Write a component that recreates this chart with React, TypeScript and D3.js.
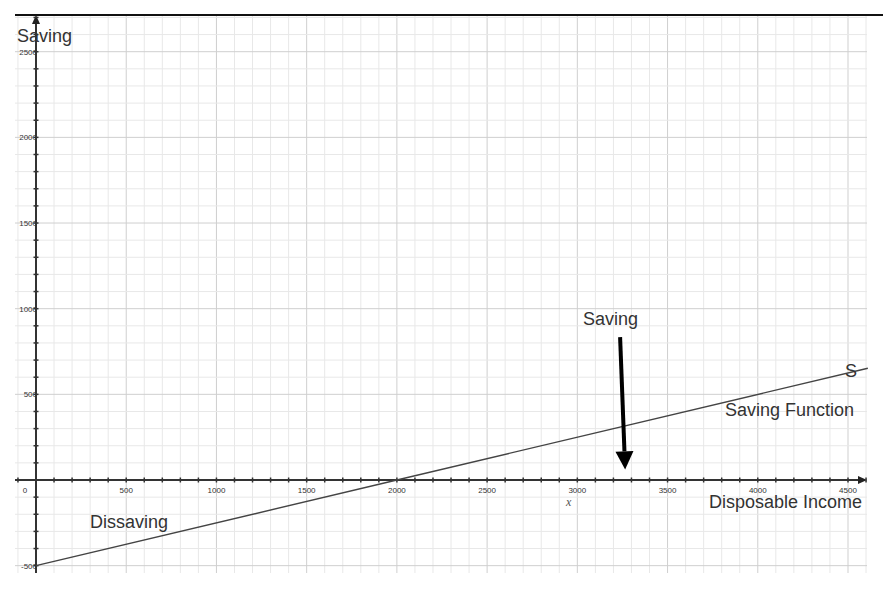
import React from "react";
import * as d3 from "d3";

const xTickValues = [0, 500, 1000, 1500, 2000, 2500, 3000, 3500, 4000, 4500];
const yTickValues = [-500, 500, 1000, 1500, 2000, 2500];
const incomeValues = [0, 2000, 4610];
const savingValues = [-500, 0, 652];
const arrowFrom = [3237, 834];
const arrowTo = [3265, 62];

const W = 883;
const H = 600;

export default function App() {
  const x = d3.scaleLinear().domain([0, 4500]).range([36, 848]);
  const y = d3.scaleLinear().domain([0, 2500]).range([480, 51.7]);
  const xMin = x.invert(15);
  const xMax = x.invert(867);
  const yMin = y.invert(573);
  const yMax = y.invert(15);

  const minorX = d3.range(-100, 4601, 100);
  const minorY = d3.range(-500, 2701, 100);

  const line = d3
    .line<number>()
    .x((_, i) => x(incomeValues[i]))
    .y((d) => y(d));

  const ax1 = x(arrowFrom[0]);
  const ay1 = y(arrowFrom[1]);
  const ax2 = x(arrowTo[0]);
  const ay2 = y(arrowTo[1]);
  const ang = Math.atan2(ay2 - ay1, ax2 - ax1);
  const headLen = 18;
  const headW = 9;
  const bx = ax2 - headLen * Math.cos(ang);
  const by = ay2 - headLen * Math.sin(ang);
  const px = -Math.sin(ang);
  const py = Math.cos(ang);

  const font = "Helvetica, Arial, 'Liberation Sans', sans-serif";

  return (
    <svg
      width={W}
      height={H}
      style={{ position: "absolute", left: 0, top: 0, background: "#fff" }}
    >
      <rect width={W} height={H} fill="#fff" />
      {/* minor grid */}
      {minorX.map((v) => (
        <line
          key={"mx" + v}
          x1={x(v)}
          x2={x(v)}
          y1={y(yMax)}
          y2={y(yMin)}
          stroke={v % 500 === 0 ? "#cfcfcf" : "#e8e8e8"}
          strokeWidth={1}
        />
      ))}
      {minorY.map((v) => (
        <line
          key={"my" + v}
          x1={x(xMin)}
          x2={x(xMax)}
          y1={y(v)}
          y2={y(v)}
          stroke={v % 500 === 0 ? "#cfcfcf" : "#e8e8e8"}
          strokeWidth={1}
        />
      ))}
      {/* top border */}
      <line x1={15} x2={W} y1={15} y2={15} stroke="#111" strokeWidth={2} />
      {/* axes */}
      <line x1={x(xMin)} x2={x(xMax) - 4} y1={y(0)} y2={y(0)} stroke="#333" strokeWidth={2} />
      <path
        d={`M${x(xMax)},${y(0)} L${x(xMax) - 9},${y(0) - 4} L${x(xMax) - 9},${y(0) + 4} Z`}
        fill="#222"
      />
      <line x1={x(0)} x2={x(0)} y1={y(yMin)} y2={y(yMax) + 4} stroke="#333" strokeWidth={2} />
      <path
        d={`M${x(0)},${y(yMax)} L${x(0) - 4},${y(yMax) + 9} L${x(0) + 4},${y(yMax) + 9} Z`}
        fill="#222"
      />
      {/* axis ticks */}
      {minorX.filter((v) => v !== 0).map((v) => (
        <line key={"tx" + v} x1={x(v)} x2={x(v)} y1={y(0) - 2.5} y2={y(0) + 2.5} stroke="#333" strokeWidth={1.5} />
      ))}
      {minorY.filter((v) => v !== 0).map((v) => (
        <line key={"ty" + v} x1={x(0) - 2.5} x2={x(0) + 2.5} y1={y(v)} y2={y(v)} stroke="#333" strokeWidth={1.5} />
      ))}
      {/* tick labels */}
      {xTickValues.map((v) => (
        <text
          key={"lx" + v}
          x={v === 0 ? x(0) - 11 : x(v)}
          y={y(0) + 13}
          textAnchor="middle"
          fontSize={8}
          fontFamily={font}
          fill="#333"
        >
          {v}
        </text>
      ))}
      {yTickValues.map((v) => (
        <text
          key={"ly" + v}
          x={x(0) + 1}
          y={y(v) + 3}
          textAnchor="end"
          fontSize={8}
          fontFamily={font}
          fill="#333"
        >
          {v}
        </text>
      ))}
      {/* saving function */}
      <path d={line(savingValues) || ""} fill="none" stroke="#444" strokeWidth={1.4} />
      {/* arrow */}
      <line x1={ax1} y1={ay1} x2={bx} y2={by} stroke="#000" strokeWidth={4} />
      <path
        d={`M${ax2},${ay2} L${bx + px * headW},${by + py * headW} L${bx - px * headW},${by - py * headW} Z`}
        fill="#000"
      />
      {/* labels */}
      <text x={17} y={42} fontSize={18} fontFamily={font} fill="#333">Saving</text>
      <text x={90} y={528} fontSize={18} fontFamily={font} fill="#333">Dissaving</text>
      <text x={725} y={416} fontSize={18} fontFamily={font} fill="#333">Saving Function</text>
      <text x={845} y={377} fontSize={18} fontFamily={font} fill="#333">S</text>
      <text x={709} y={508} fontSize={18} fontFamily={font} fill="#333">Disposable Income</text>
      <text x={583} y={325} fontSize={18} fontFamily={font} fill="#333">Saving</text>
      <text x={566} y={506} fontSize={12} fontStyle="italic" fontFamily="'Liberation Serif', serif" fill="#555">x</text>
    </svg>
  );
}
